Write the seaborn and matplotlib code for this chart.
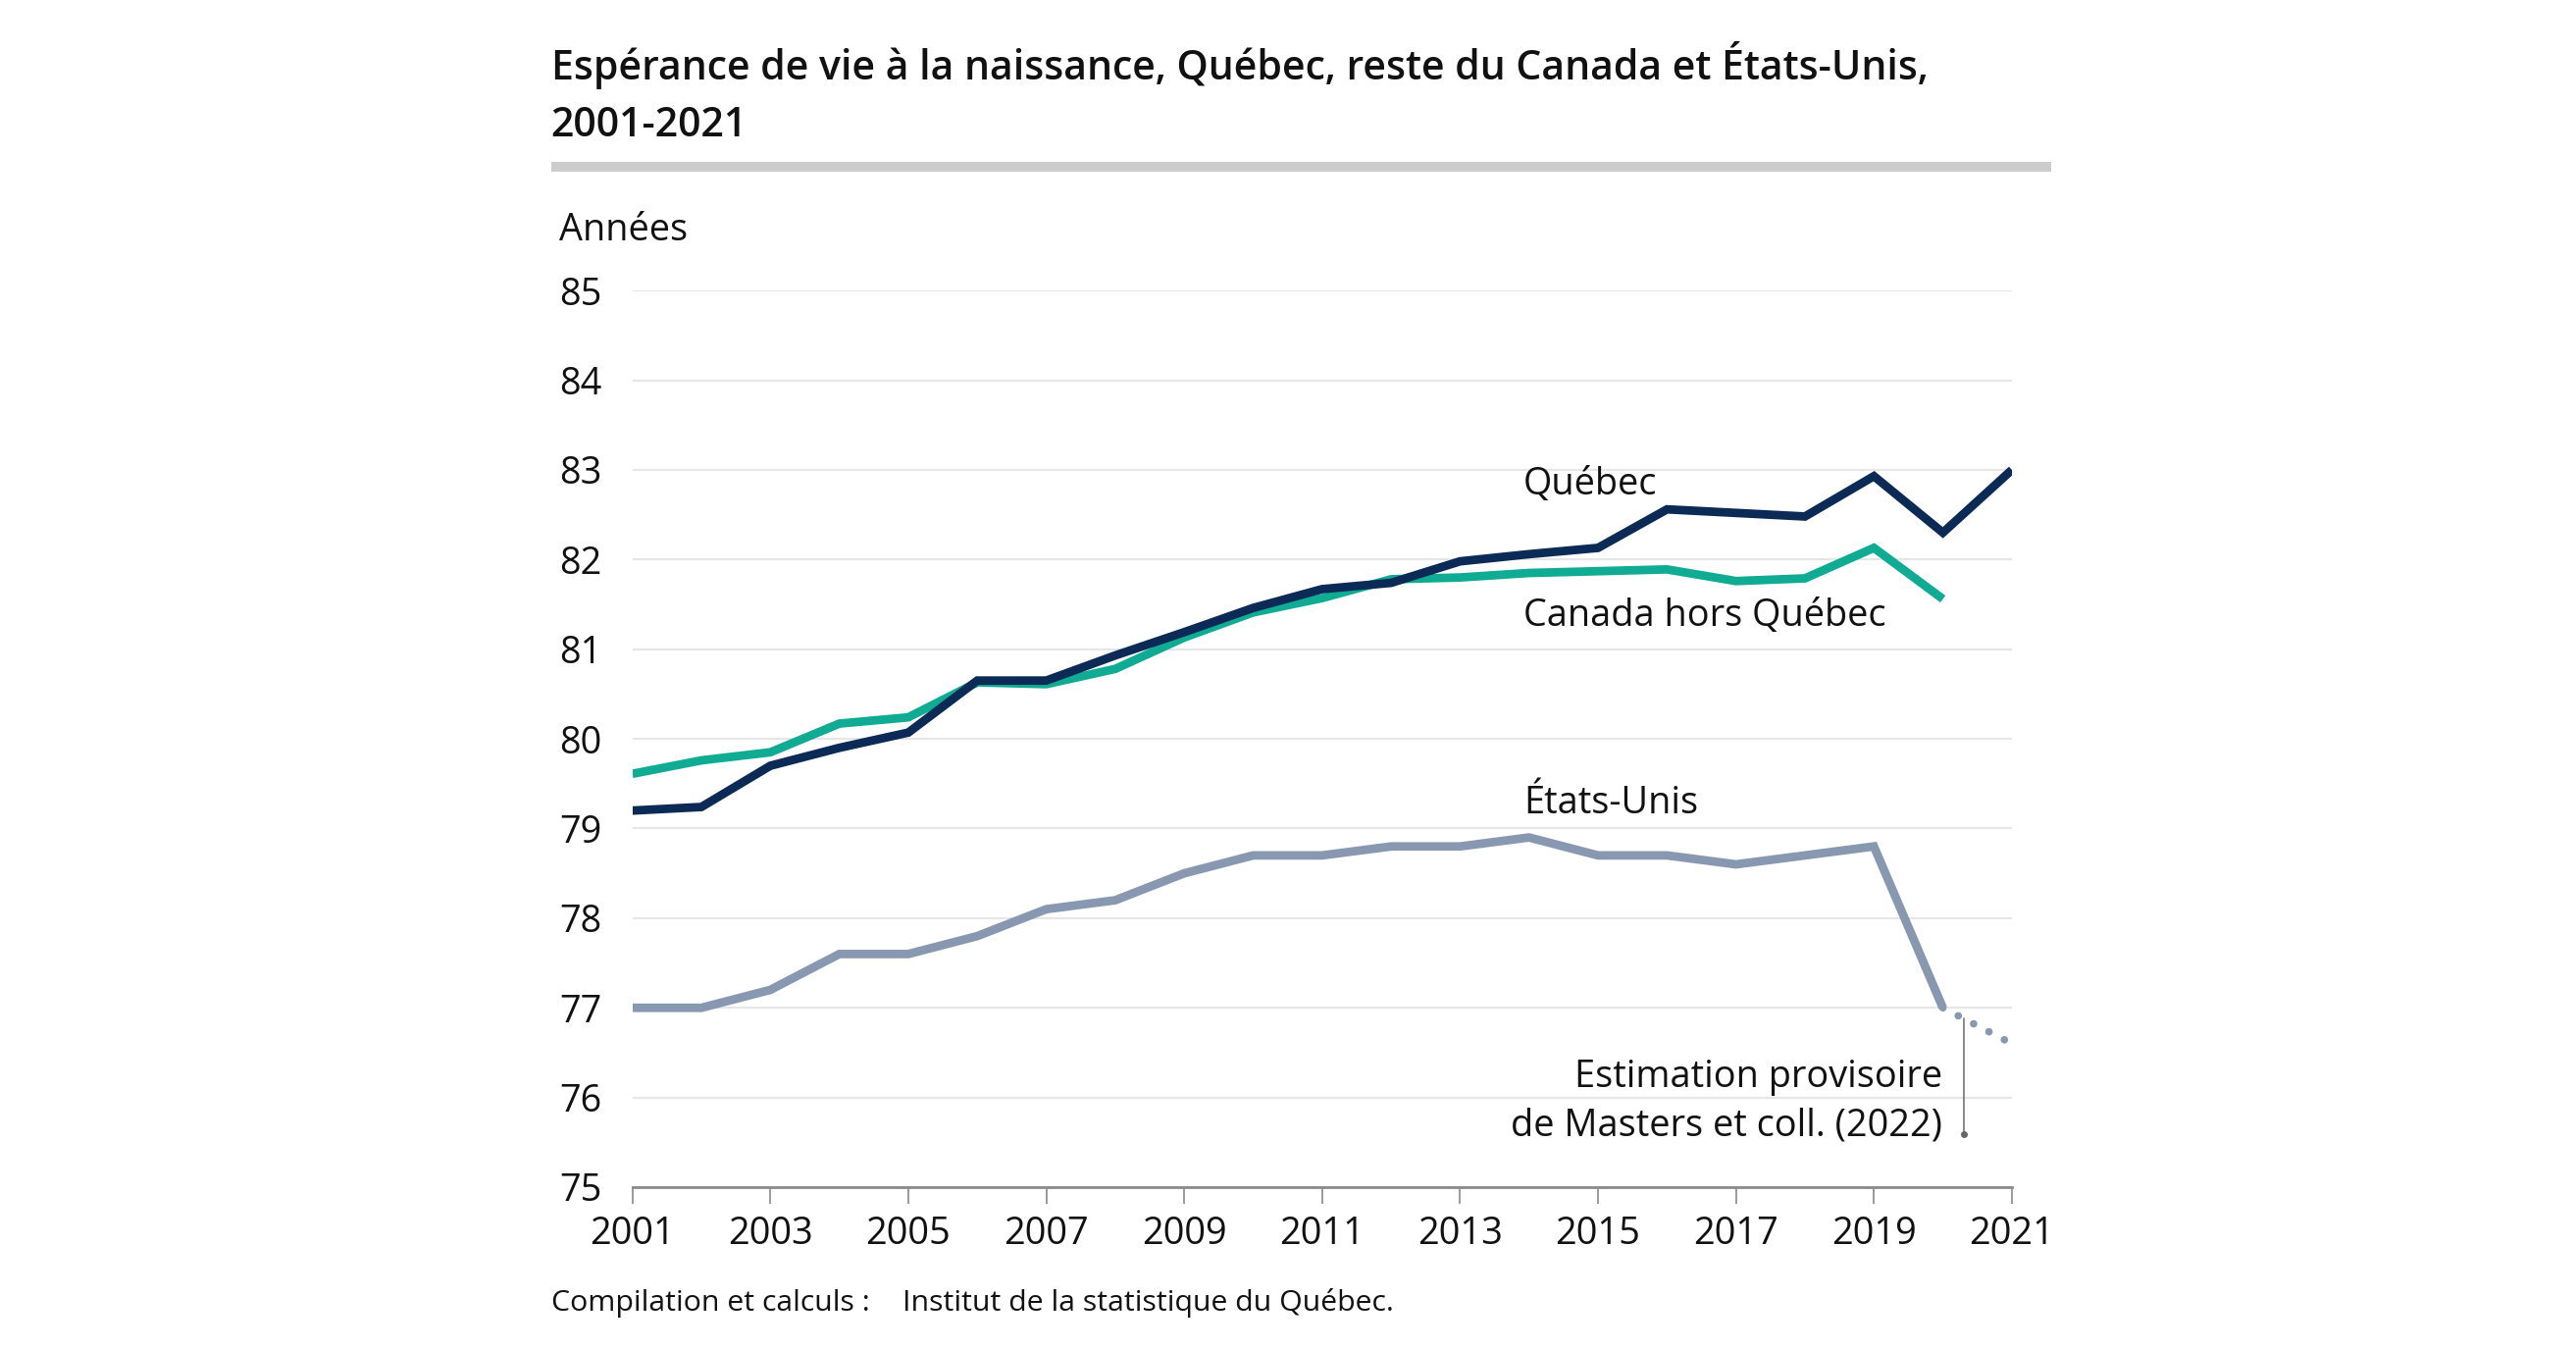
import matplotlib
matplotlib.use("Agg")
import matplotlib.pyplot as plt
import matplotlib.patches as mpatches
import seaborn as sns
import pandas as pd
import numpy as np

# ---- data ----
years = list(range(2001, 2022))
quebec = [79.2, 79.24, 79.7, 79.9, 80.07, 80.65, 80.65, 80.93, 81.19, 81.46, 81.67,
          81.74, 81.98, 82.06, 82.13, 82.56, 82.52, 82.48, 82.93, 82.3, 83.0]
canada_years = list(range(2001, 2021))
canada_hq = [79.61, 79.76, 79.85, 80.17, 80.24, 80.63, 80.61, 80.78, 81.13, 81.41, 81.57,
             81.78, 81.8, 81.85, 81.87, 81.89, 81.76, 81.79, 82.13, 81.56]
usa_years = list(range(2001, 2021))
usa = [77.0, 77.0, 77.2, 77.6, 77.6, 77.8, 78.1, 78.2, 78.5, 78.7, 78.7,
       78.8, 78.8, 78.9, 78.7, 78.7, 78.6, 78.7, 78.8, 77.0]
usa_est_years = [2020, 2021]
usa_est = [77.0, 76.6]
xticks = list(range(2001, 2022, 2))
yticks = list(range(75, 86))

title = "Espérance de vie à la naissance, Québec, reste du Canada et États-Unis,\n2001-2021"
ylabel = "Années"
source_label = "Compilation et calculs :"
source_text = "Institut de la statistique du Québec."
annot_text = "Estimation provisoire\nde Masters et coll. (2022)"

C_QC = "#0b2a55"
C_CA = "#0fac93"
C_US = "#8898b0"

sns.set_theme(style="white")
plt.rcParams["font.family"] = ["Open Sans", "DejaVu Sans"]

FS = 27.3

fig = plt.figure(figsize=(26.26, 13.75), dpi=100)
ax = fig.add_axes([0.2455, 0.120, 0.5355, 0.6646])

df_qc = pd.DataFrame({"annee": years, "val": quebec})
df_ca = pd.DataFrame({"annee": canada_years, "val": canada_hq})
df_us = pd.DataFrame({"annee": usa_years, "val": usa})
df_est = pd.DataFrame({"annee": usa_est_years, "val": usa_est})

lw = 6.3
sns.lineplot(data=df_us, x="annee", y="val", ax=ax, color=C_US, lw=lw,
             solid_joinstyle="miter", solid_capstyle="butt", zorder=3)
sns.lineplot(data=df_est, x="annee", y="val", ax=ax, color=C_US, lw=5.5,
             linestyle=(0, (0.01, 2.3)), dash_capstyle="round", zorder=3)
sns.lineplot(data=df_ca, x="annee", y="val", ax=ax, color=C_CA, lw=lw,
             solid_joinstyle="miter", solid_capstyle="butt", zorder=4)
sns.lineplot(data=df_qc, x="annee", y="val", ax=ax, color=C_QC, lw=lw,
             solid_joinstyle="miter", solid_capstyle="butt", zorder=5)

ax.set_xlim(2001, 2021)
ax.set_ylim(75, 85)
ax.set_xticks(xticks)
ax.set_xticklabels([str(y) for y in xticks])
ax.set_yticks(yticks)
ax.set_yticklabels([str(y) for y in yticks])
ax.set_xlabel("")
ax.set_ylabel("")

ax.grid(axis="y", color="#e6e6e6", lw=1.5, zorder=0)
ax.grid(axis="x", visible=False)
for s in ["top", "right", "left"]:
    ax.spines[s].set_visible(False)
ax.spines["bottom"].set_color("#8a8a8a")
ax.spines["bottom"].set_linewidth(2)
ax.spines["bottom"].set_zorder(6)

ax.tick_params(axis="x", length=12, width=1.2, color="#8a8a8a", direction="out",
               pad=9, labelsize=FS, labelcolor="#111111", bottom=True)
ax.tick_params(axis="y", length=0, pad=53.5, labelsize=FS, labelcolor="#111111")
for lab in ax.get_yticklabels():
    lab.set_horizontalalignment("left")

# series labels
ax.text(2013.92, 82.83, "Québec", fontsize=FS, color="#111111", va="center", ha="left")
ax.text(2013.92, 81.37, "Canada hors Québec", fontsize=FS, color="#111111", va="center", ha="left")
ax.text(2013.92, 79.28, "États-Unis", fontsize=FS, color="#111111", va="center", ha="left")

# annotation
ax.text(2019.99, 75.95, annot_text, fontsize=FS, color="#111111", va="center", ha="right",
        multialignment="right", linespacing=1.4)
ax.plot([2020.3, 2020.3], [76.88, 75.59], color="#777777", lw=1.2, zorder=2)
ax.plot([2020.3], [75.59], marker="o", ms=4, color="#666666", zorder=2)

# y label
fig.text(337 / 1552, 1 - 139 / 812.6, ylabel, fontsize=FS, color="#111111",
         ha="left", va="center")

# title
fig.text(332 / 1552, 1 - 25 / 812.6, title, fontsize=29.5, fontweight="semibold",
         color="#111111", ha="left", va="top", linespacing=1.5)

# grey bar under title
fig.add_artist(mpatches.Rectangle((332 / 1552, 1 - 103.5 / 812.6), (1236 - 332) / 1552,
                                  6 / 812.6, transform=fig.transFigure,
                                  facecolor="#cccccc", edgecolor="none"))

# source
fig.text(332 / 1552, 1 - 785 / 812.6, source_label, fontsize=21.8, color="#111111",
         ha="left", va="center")
fig.text(544 / 1552, 1 - 785 / 812.6, source_text, fontsize=21.8, color="#111111",
         ha="left", va="center")

fig.savefig("out.png", dpi=100, facecolor="white")
